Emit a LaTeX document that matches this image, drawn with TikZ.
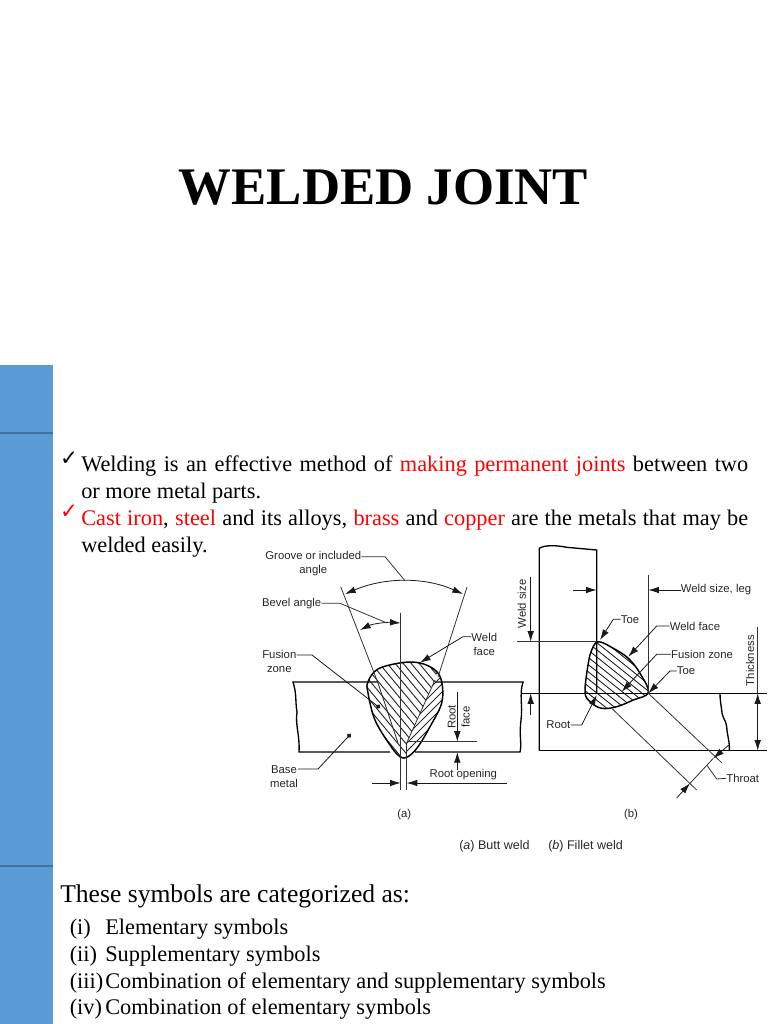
\documentclass[tikz,border=0pt]{standalone}
\usepackage{fontspec}
\setmainfont{Liberation Serif}
\newfontfamily\labelfont{Liberation Sans}
\newfontfamily\checkfont{DejaVu Sans}
\usetikzlibrary{arrows.meta}
\definecolor{barblue}{HTML}{5B9BD5}
\definecolor{barline}{HTML}{41719C}
\newcommand{\hl}[1]{\textcolor{red}{#1}}
\newcommand{\weldA}{plot[smooth cycle,tension=0.6] coordinates {(401.7,662.7) (420,663) (435,670) (441.7,681.7) (441.7,703) (430,726.7) (418,746.7) (408,756.7) (400,756.7) (390,745) (375,720) (368,693) (368,681.7) (378,669)}}
\newcommand{\weldB}{plot[smooth cycle,tension=0.6] coordinates {(598.3,641.7) (613.3,648.3) (628.3,658.3) (640,673.3) (648.3,692.5) (633.3,700) (616.7,706.7) (601.7,708.3) (590,701.7) (585,691.7) (588.3,663.3) (591.7,650)}}
\tikzset{
	bodytext/.style={inner sep=0pt,anchor=base west,font=\fontsize{16.75}{20.25}\selectfont},
	parabox/.style={inner sep=0pt,anchor=north west,text width=500.25pt,align=justify,font=\fontsize{16.75}{20.25}\selectfont},
	tick/.style={inner sep=0pt,font=\checkfont\fontsize{16}{16}\selectfont},
	lbl/.style={inner sep=0pt,align=center,text=black!85,font=\labelfont\fontsize{8.5}{10.5}\selectfont},
	plate/.style={line width=1pt,black},
	thin line/.style={line width=0.6pt,black!80},
	dim/.style={line width=0.6pt,black!90,-{Latex[length=8pt,width=5pt]}},
	dimboth/.style={line width=0.6pt,black!90,{Latex[length=8pt,width=5pt]}-{Latex[length=8pt,width=5pt]}},
	dotted leader/.style={line width=0.6pt,black!90,-{Circle[length=3.5pt]}},
	hatchline/.style={line width=0.7pt,black!85},
}
\begin{document}
\begin{tikzpicture}[x=0.75pt,y=-0.75pt]
	\useasboundingbox (0,0) rectangle (768,1024);

	% side bar
	\fill[barblue] (0,365) rectangle (53,1024);
	\draw[barline,line width=0.8pt] (0,433) -- (53,433);
	\draw[barline,line width=0.8pt] (0,866) -- (53,866);

	\node[inner sep=0pt,font=\bfseries\fontsize{39.6}{44}\selectfont] (title) at (383.5,187) {WELDED JOINT};

	% text
	\node[tick] (tickA) at (69,459) {✓};
	\node[parabox] (paraA) at (81,456) {Welding is an effective method of \hl{making permanent joints} between two\linebreak or more metal parts.};
	\node[tick,red] (tickB) at (69,512) {✓};
	\node[parabox] (paraB) at (81,510) {\hl{Cast iron}, \hl{steel} and its alloys, \hl{brass} and \hl{copper} are the metals that may be welded easily.};

	\node[bodytext,font=\fontsize{19.2}{22}\selectfont] (symhead) at (60,902) {These symbols are categorized as:};
	\foreach \y/\n/\t in {934.5/i/Elementary symbols,961.5/ii/Supplementary symbols,988.2/iii/Combination of elementary and supplementary symbols,1014.5/iv/Combination of elementary symbols}{
		\node[bodytext] (num\n) at (69.5,\y) {(\n)};
		\node[bodytext] (item\n) at (105,\y) {\t};
	}

	% butt weld
	\draw[plate] (378,682) -- (293,682) .. controls (297,695) and (295,700) .. (297,712) .. controls (295,725) and (300,735) .. (299,752) -- (390,752);
	\draw[plate] (435,682) -- (523,682) .. controls (519,695) and (523,705) .. (521,720) .. controls (519,735) and (522,745) .. (520,752) -- (415,752);
	\begin{scope}
		\clip \weldA;
		\begin{scope}
			\clip (340,650) -- (440,650) -- (435,680) -- (406.7,743) -- (406.7,770) -- (340,770) -- cycle;
			\foreach \k in {240,248,...,450}{
				\draw[hatchline] (\k,650) -- (\k+100,770);
			}
		\end{scope}
		\begin{scope}
			\clip (435,680) -- (406.7,743) -- (406.7,770) -- (460,770) -- (460,650) -- (440,650) -- cycle;
			\foreach \k in {300,308,...,460}{
				\draw[hatchline] (\k,770) -- (\k+100,670);
			}
		\end{scope}
	\end{scope}
	\draw[line width=1.1pt] \weldA;
	\draw[thin line] (378,683) -- (398,743);
	\draw[thin line] (435,680) -- (406.7,743);

	\draw[thin line] (340.7,586.7) -- (378,683);
	\draw[thin line] (467,587) -- (438,677);
	\draw[thin line] (400.7,612.7) -- (400.7,790);
	\draw[thin line] (406.7,743) -- (406.7,790);
	\draw[thin line] (406.7,741.7) -- (477,741.7);

	\coordinate (grooveL) at (345,594);
	\coordinate (grooveM) at (405,580.7);
	\coordinate (grooveR) at (463,594);
	\draw[dimboth] (grooveL) .. controls (385,577) and (425,577) .. (grooveR);
	\coordinate (bevelL) at (360,630);
	\coordinate (bevelR) at (400.7,623);
	\draw[dimboth] (bevelL) .. controls (372,624) and (386,622) .. (bevelR);

	\node[lbl] (groovelbl) at (313.3,563.7) {Groove or included\\angle};
	\node[lbl] (bevellbl) at (291.7,603.3) {Bevel angle};
	\node[lbl] (fusionlbl) at (279.3,661) {Fusion\\zone};
	\node[lbl] (facelbl) at (484.3,644) {Weld\\face};
	\node[lbl] (baselbl) at (284,776.3) {Base\\metal};
	\node[lbl,rotate=90] (rootfacelbl) at (458.7,717) {Root\\face};
	\node[lbl] (openinglbl) at (463.3,775) {Root opening};
	\node[lbl] (alabel) at (404.3,815) {(a)};

	\coordinate (faceTip) at (420,662.7);
	\coordinate (fusionTip) at (380,708);
	\coordinate (baseTip) at (350.7,734);
	\draw[thin line] (groovelbl.north east |- 0,556.7) -- (385,556.7) -- (grooveM);
	\draw[thin line] (bevellbl.east) -- (340,603.3) -- (387,623);
	\draw[dim] (facelbl.west |- 0,636.7) -- (463,636.7) -- (faceTip);
	\draw[dotted leader] (fusionlbl.north east |- 0,655) -- (312,655) -- (fusionTip);
	\draw[dotted leader] (baselbl.north east |- 0,769) -- (318,769) -- (baseTip);

	\coordinate (rootTop) at (457.3,741.7);
	\coordinate (rootLow) at (457.3,752);
	\draw[dim] (457.3,692) -- (rootTop);
	\draw[dim] (457.3,770) -- (rootLow);
	\coordinate (openL) at (400.7,783);
	\coordinate (openR) at (406.7,783);
	\draw[dim] (372,783) -- (openL);
	\draw[dim] (507,783) -- (openR);

	% fillet weld
	\begin{scope}
		\clip \weldB;
		\foreach \k in {500,509,...,660}{
			\draw[hatchline] (\k,630) -- (\k+100,710);
		}
	\end{scope}
	\draw[line width=1.1pt] \weldB;
	\draw[plate] (539.3,750.7) -- (539.3,548.3) .. controls (545,545) and (555,545) .. (566.7,547.3) -- (596.7,550) -- (596.7,693.3);
	\draw[plate] (521.7,693.3) -- (766.7,693.3);
	\draw[plate] (539.3,750.7) -- (766.7,750.7);
	\draw[plate] (720,693.3) .. controls (720,700) and (721,705) .. (721.7,710) .. controls (722,718) and (726,720) .. (726.7,726.7) .. controls (727,735) and (730,742) .. (729.3,750.7);
	\draw[thin line] (648.3,575) -- (648.3,693.3);
	\draw[thin line] (517.3,641.7) -- (596.7,641.7);
	\draw[thin line] (648.3,693.3) -- (721.7,762.7);
	\draw[thin line] (611.7,708.3) -- (696.7,790);
	\draw[thin line] (757.7,626.7) -- (757.7,693.3);

	\node[lbl] (legsizelbl) at (716,590) {Weld size, leg};
	\node[lbl,rotate=90] (sizelbl) at (521.7,604) {Weld size};
	\node[lbl] (toeAlbl) at (630,619.3) {Toe};
	\node[lbl] (fillfacelbl) at (695,626) {Weld face};
	\node[lbl] (fillfusionlbl) at (702,654.3) {Fusion zone};
	\node[lbl] (toeBlbl) at (686,671) {Toe};
	\node[lbl] (rootlbl) at (558.3,725) {Root};
	\node[lbl,rotate=90] (thicklbl) at (750,660.7) {Thickness};
	\node[lbl] (throatlbl) at (742.7,778.3) {Throat};
	\node[lbl] (blabel) at (631,815) {(b)};
	\node[lbl,anchor=west,font=\labelfont\fontsize{9.4}{11}\selectfont] (captionlbl) at (459,846) {(\textit{a}) Butt weld\hspace{14pt}(\textit{b}) Fillet weld};

	\coordinate (legL) at (596.7,590);
	\coordinate (legR) at (648.3,590);
	\draw[dim] (573.3,590) -- (legL);
	\draw[dim] (legsizelbl.west) -- (legR);

	\coordinate (sizeTop) at (530.7,641.7);
	\coordinate (sizeLow) at (530.7,693.3);
	\draw[dim] (530.7,576.7) -- (sizeTop);
	\draw[dim] (530.7,715) -- (sizeLow);

	\coordinate (toeAtip) at (600,640);
	\coordinate (facetip) at (628.3,656.7);
	\coordinate (fusiontip) at (621.7,691.7);
	\coordinate (toeBtip) at (648.3,693.3);
	\coordinate (roottip) at (596.7,695);
	\draw[dim] (toeAlbl.west) -- (613.3,619.3) -- (toeAtip);
	\draw[dim] (fillfacelbl.west) -- (656.7,626) -- (facetip);
	\draw[dim] (fillfusionlbl.west) -- (656.7,654.3) -- (fusiontip);
	\draw[dim] (toeBlbl.west) -- (670,671) -- (toeBtip);
	\draw[dim] (rootlbl.east) -- (581.7,725) -- (roottip);

	\coordinate (thickTop) at (757.7,693.3);
	\coordinate (thickLow) at (757.7,750.7);
	\draw[dimboth] (thickTop) -- (thickLow);

	\coordinate (throatLow) at (690,783.3);
	\coordinate (throatUp) at (713.3,758.3);
	\draw[dim] (676.7,798) -- (throatLow);
	\draw[dim] (728.9,745) -- (throatUp);
	\draw[thin line] (throatLow) -- (throatUp);
	\draw[thin line] (706.7,765) -- (716.7,779) -- (throatlbl.west);
\end{tikzpicture}
\end{document}
